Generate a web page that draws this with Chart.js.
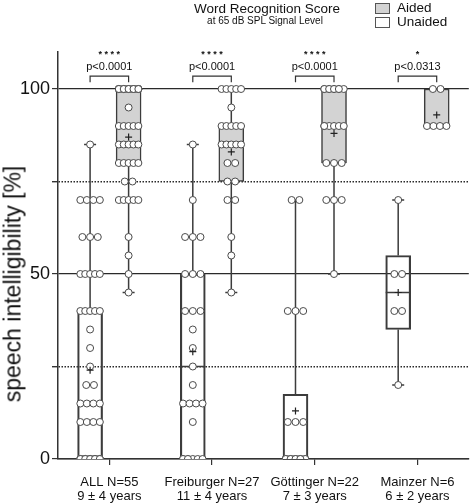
<!DOCTYPE html>
<html>
<head>
<meta charset="utf-8">
<script src="https://cdn.jsdelivr.net/npm/chart.js@4.4.1/dist/chart.umd.min.js"></script>
<style>
html, body { margin: 0; padding: 0; background: #fff; }
#wrap { position: relative; width: 474px; height: 504px; font-family: "Liberation Sans", Arial, sans-serif; color: #111; }
#chart { position: absolute; left: 0; top: 0; }
.txt { position: absolute; white-space: nowrap; line-height: 1; }
.key { position: absolute; width: 13px; height: 9px; border: 1px solid #555; }
#ytitle { position: absolute; left: 13px; top: 284px; font-size: 23px; transform: translate(-50%, -50%) rotate(-90deg); white-space: nowrap; line-height: 1; }
</style>
</head>
<body>
<div id="wrap">
  <canvas id="chart" width="474" height="504"></canvas>
  <div class="txt" style="left:167px;width:200px;text-align:center;top:2px;font-size:13.5px;">Word Recognition Score</div>
  <div class="txt" style="left:165px;width:200px;text-align:center;top:16px;font-size:10px;">at 65 dB SPL Signal Level</div>
  <div class="key" style="left:375px;top:3px;background:#d3d3d3;"></div>
  <div class="txt" style="left:397px;top:1px;font-size:13.5px;">Aided</div>
  <div class="key" style="left:375px;top:17px;background:#fff;"></div>
  <div class="txt" style="left:397px;top:15px;font-size:13.5px;">Unaided</div>
  <div id="ytitle">speech intelligibility [%]</div>
</div>
<script>
const groupLabels = [
    ['ALL N=55', '9 ± 4 years'],
    ['Freiburger N=27', '11 ± 4 years'],
    ['Göttinger N=22', '7 ± 3 years'],
    ['Mainzer N=6', '6 ± 2 years']
];

// individual scores per group
const unaidedScores = [
    [85, 70, 70, 70, 70, 60, 60, 60, 50, 50, 50, 50, 50, 40, 40, 40, 40, 40, 35, 30, 25, 20, 20,
     15, 15, 15, 15, 10, 10, 10, 10, 0, 0, 0, 0, 0, 0, 0, 0, 0, 0, 0, 0, 0, 0, 0, 0, 0, 0, 0, 0],
    [85, 70, 60, 60, 60, 50, 50, 50, 40, 40, 40, 35, 30, 25, 20, 15, 15, 15, 15, 10, 0, 0, 0, 0, 0, 0, 0],
    [70, 70, 40, 40, 40, 10, 10, 10, 0, 0, 0, 0, 0, 0, 0, 0, 0, 0, 0, 0, 0, 0],
    [70, 50, 50, 40, 40, 20]
];
const aidedScores = [
    [100, 100, 100, 100, 100, 100, 100, 100, 100, 100, 100, 100, 100, 100, 100, 100, 100, 100, 100, 100,
     95, 90, 90, 90, 90, 90, 85, 85, 85, 85, 85, 80, 80, 80, 80, 80, 75, 75, 70, 70, 70, 70, 70, 60, 55, 50, 45],
    [100, 100, 100, 100, 100, 95, 90, 90, 90, 90, 90, 85, 85, 85, 85, 85, 80, 80, 75, 75, 70, 70, 60, 55, 45],
    [100, 100, 100, 100, 100, 100, 100, 100, 100, 90, 90, 90, 90, 90, 90, 80, 80, 80, 70, 70, 70, 50],
    [100, 100, 90, 90, 90, 90]
];

// box statistics
const unaidedMin = [0, 0, 0, 20];
const unaidedQ1 = [0, 0, 0, 35];
const unaidedMedian = [10, 25, 0, 45];
const unaidedQ3 = [40, 50, 17.5, 55];
const unaidedMax = [85, 85, 70, 70];
const unaidedMean = [24, 29, 13, 45];

const aidedMin = [45, 45, 50, 90];
const aidedQ1 = [80, 75, 80, 90];
const aidedMedian = [90, 85, 90, 90];
const aidedQ3 = [100, 90, 100, 100];
const aidedMax = [100, 100, 100, 100];
const aidedMean = [87, 83, 88, 93];

const stars = ['****', '****', '****', '*'];
const pValues = ['p<0.0001', 'p<0.0001', 'p<0.0001', 'p<0.0313'];

const SHIFT = 0.1875; // unaided left / aided right of the category centre

// spread equal scores side by side like a beeswarm (crowded rows overlap)
function swarm(groups, shift) {
    const pts = [];
    groups.forEach((vals, gi) => {
        const counts = {};
        vals.forEach(v => counts[v] = (counts[v] || 0) + 1);
        Object.keys(counts).forEach(k => {
            const n = counts[k];
            const slots = Math.min(n, 5);
            const step = slots > 1 ? Math.min(0.075, 0.19 / (slots - 1)) : 0;
            for (let j = 0; j < n; j++) {
                pts.push({ x: gi + shift + ((j % slots) - (slots - 1) / 2) * step, y: +k });
            }
        });
    });
    return pts;
}

let whiskersDone = false;
const boxExtras = {
    id: 'boxExtras',
    beforeDraw() { whiskersDone = false; },
    beforeDatasetDraw(chart, args) {
        if (whiskersDone || args.meta.type !== 'scatter') return;
        whiskersDone = true;
        const ctx = chart.ctx;
        const xs = chart.scales.xs, y = chart.scales.y;
        const sets = [
            { shift: -SHIFT, meta: 0, min: unaidedMin, q1: unaidedQ1, med: unaidedMedian, q3: unaidedQ3, max: unaidedMax },
            { shift: SHIFT, meta: 1, min: aidedMin, q1: aidedQ1, med: aidedMedian, q3: aidedQ3, max: aidedMax }
        ];
        ctx.save();
        ctx.strokeStyle = '#3c3c3c';
        ctx.lineWidth = 1.5;
        sets.forEach(s => {
            const bars = chart.getDatasetMeta(s.meta).data;
            groupLabels.forEach((_, gi) => {
                const x = xs.getPixelForValue(gi + s.shift);
                const half = bars[gi].width / 2;
                ctx.beginPath();
                if (s.max[gi] > s.q3[gi]) {
                    ctx.moveTo(x, y.getPixelForValue(s.q3[gi]));
                    ctx.lineTo(x, y.getPixelForValue(s.max[gi]));
                    ctx.moveTo(x - 6, y.getPixelForValue(s.max[gi]));
                    ctx.lineTo(x + 6, y.getPixelForValue(s.max[gi]));
                }
                if (s.min[gi] < s.q1[gi]) {
                    ctx.moveTo(x, y.getPixelForValue(s.q1[gi]));
                    ctx.lineTo(x, y.getPixelForValue(s.min[gi]));
                    ctx.moveTo(x - 6, y.getPixelForValue(s.min[gi]));
                    ctx.lineTo(x + 6, y.getPixelForValue(s.min[gi]));
                }
                ctx.moveTo(x - half, y.getPixelForValue(s.med[gi]));
                ctx.lineTo(x + half, y.getPixelForValue(s.med[gi]));
                ctx.stroke();
            });
        });
        ctx.restore();
    },
    afterDraw(chart) {
        const ctx = chart.ctx;
        const xs = chart.scales.xs, y = chart.scales.y;
        ctx.save();
        ctx.strokeStyle = '#333';
        ctx.lineWidth = 1.2;
        ctx.fillStyle = '#111';
        ctx.textAlign = 'center';
        ctx.textBaseline = 'middle';
        groupLabels.forEach((_, gi) => {
            const x1 = xs.getPixelForValue(gi - SHIFT);
            const x2 = xs.getPixelForValue(gi + SHIFT);
            const yTop = y.getPixelForValue(103.5);
            const yLeg = y.getPixelForValue(101.8);
            ctx.beginPath();
            ctx.moveTo(x1, yLeg);
            ctx.lineTo(x1, yTop);
            ctx.lineTo(x2, yTop);
            ctx.lineTo(x2, yLeg);
            ctx.stroke();
            const xm = (x1 + x2) / 2;
            ctx.font = '11px "Liberation Sans", Arial, sans-serif';
            ctx.fillText(pValues[gi], xm, yTop - 9);
            ctx.font = 'bold 9px "Liberation Sans", Arial, sans-serif';
            ctx.fillText(stars[gi].split('').join(' '), xm, yTop - 22);
        });
        ctx.restore();
    }
};

const pointStyle = {
    type: 'scatter',
    xAxisID: 'xs',
    pointRadius: 3.5,
    pointBorderWidth: 1,
    pointBorderColor: '#4a4a4a',
    pointBackgroundColor: '#fff',
    order: 1
};

const boxStyle = {
    xAxisID: 'xs',
    grouped: false,
    barThickness: 25,
    borderColor: '#3c3c3c',
    borderWidth: 1.5,
    borderSkipped: false,
    order: 3
};

const chart = new Chart(document.getElementById('chart'), {
    type: 'bar',
    data: {
        labels: groupLabels,
        datasets: [
            Object.assign({
                label: 'Unaided',
                data: unaidedQ1.map((q, i) => ({ x: i - SHIFT, y: [q, unaidedQ3[i]] })),
                backgroundColor: 'rgba(255,255,255,0)'
            }, boxStyle),
            Object.assign({
                label: 'Aided',
                data: aidedQ1.map((q, i) => ({ x: i + SHIFT, y: [q, aidedQ3[i]] })),
                backgroundColor: '#d3d3d3'
            }, boxStyle),
            Object.assign({ label: 'Unaided scores', data: swarm(unaidedScores, -SHIFT) }, pointStyle),
            Object.assign({ label: 'Aided scores', data: swarm(aidedScores, SHIFT) }, pointStyle),
            {
                type: 'scatter',
                label: 'Mean',
                xAxisID: 'xs',
                data: unaidedMean.map((m, i) => ({ x: i - SHIFT, y: m }))
                    .concat(aidedMean.map((m, i) => ({ x: i + SHIFT, y: m }))),
                pointStyle: 'cross',
                pointRadius: 3.5,
                pointBorderWidth: 1.2,
                pointBorderColor: '#222',
                order: 0
            }
        ]
    },
    options: {
        responsive: false,
        animation: false,
        layout: { padding: { top: 52, left: 0, right: 0, bottom: 0 } },
        plugins: {
            legend: { display: false },
            tooltip: { enabled: false }
        },
        scales: {
            x: {
                type: 'category',
                offset: true,
                afterFit: s => { s.height = 45; },
                grid: { drawOnChartArea: false, offset: false, tickLength: 6, color: '#333', lineWidth: 1.2 },
                border: { color: '#333', width: 1.5 },
                ticks: {
                    color: '#111',
                    padding: 11,
                    font: { family: '"Liberation Sans", Arial, sans-serif', size: 13, lineHeight: 1.05 }
                }
            },
            xs: {
                type: 'linear',
                display: false,
                offset: false,
                min: -0.5,
                max: 3.5
            },
            y: {
                min: 0,
                max: 110,
                afterFit: s => { s.width = 58; },
                afterBuildTicks: s => { s.ticks = s.ticks.filter(t => t.value <= 100); },
                grid: {
                    color: '#2a2a2a',
                    lineWidth: c => (c.tick && (c.tick.value === 25 || c.tick.value === 75)) ? 1.4 : 1.2,
                    tickLength: 6,
                    tickColor: '#333'
                },
                border: {
                    color: '#333',
                    width: 1.5,
                    dash: c => (c.tick && (c.tick.value === 25 || c.tick.value === 75)) ? [1.5, 1.5] : []
                },
                ticks: {
                    stepSize: 25,
                    color: '#111',
                    padding: 2,
                    font: { family: '"Liberation Sans", Arial, sans-serif', size: 18 },
                    callback: v => (v % 50 === 0 ? v : '')
                }
            }
        }
    },
    plugins: [boxExtras]
});
</script>
</body>
</html>
